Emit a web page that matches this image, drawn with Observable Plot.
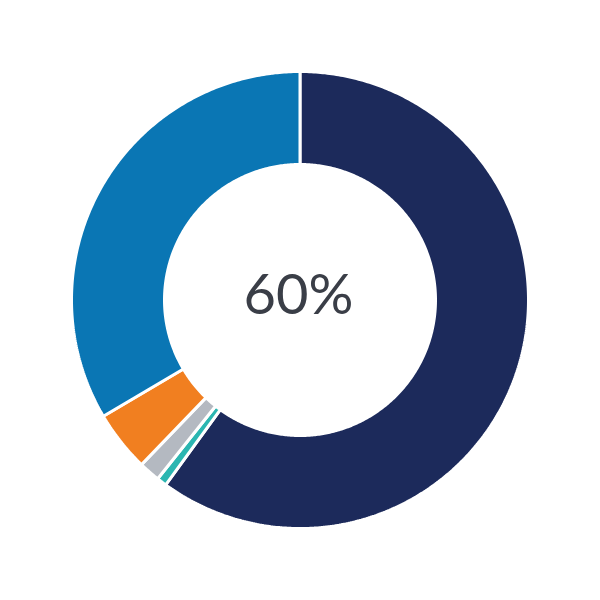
<!DOCTYPE html>
<html>
<head>
<meta charset="utf-8">
<script src="https://cdn.jsdelivr.net/npm/d3@7"></script>
<script src="https://cdn.jsdelivr.net/npm/@observablehq/plot@0.6"></script>
<style>
  html, body { margin: 0; padding: 0; background: #fff; }
</style>
</head>
<body>
<div id="chart"></div>
<script>
const categories = ["Segment A", "Segment B", "Segment C", "Segment D", "Segment E"];
const values = [60, 0.7, 1.5, 4.3, 33.5];
const colors = ["#1c2a5b", "#2bb6b1", "#b4b9c1", "#f17f20", "#0a76b4"];
const centerLabel = "60%";

const R = 228.5, r = 135.5;
const total = d3.sum(values);
const rows = [];
let acc = 0;
categories.forEach((c, i) => {
  const a0 = acc / total * 2 * Math.PI;
  acc += values[i];
  const a1 = acc / total * 2 * Math.PI;
  const n = Math.max(4, Math.ceil((a1 - a0) / 0.01));
  for (let k = 0; k <= n; k++) {
    const a = a0 + (a1 - a0) * k / n;
    rows.push({
      cat: c,
      xo: R * Math.sin(a), yo: R * Math.cos(a),
      xi: r * Math.sin(a), yi: r * Math.cos(a)
    });
  }
});

const chart = Plot.plot({
  width: 600,
  height: 600,
  margin: 0,
  x: {domain: [-300, 300], axis: null},
  y: {domain: [-300, 300], axis: null},
  color: {type: "ordinal", domain: categories, range: colors},
  marks: [
    Plot.area(rows, {
      x1: "xo", y1: "yo", x2: "xi", y2: "yi",
      fill: "cat", z: "cat",
      stroke: "#fff", strokeWidth: 3, strokeLinejoin: "miter"
    }),
    Plot.text([centerLabel], {
      x: () => 0, y: () => 0, text: d => d,
      fontSize: 56, fontFamily: "Lato", fontWeight: 400,
      fill: "#3a3e47", dy: -4, dx: -2
    })
  ]
});
document.getElementById("chart").appendChild(chart);
</script>
</body>
</html>
